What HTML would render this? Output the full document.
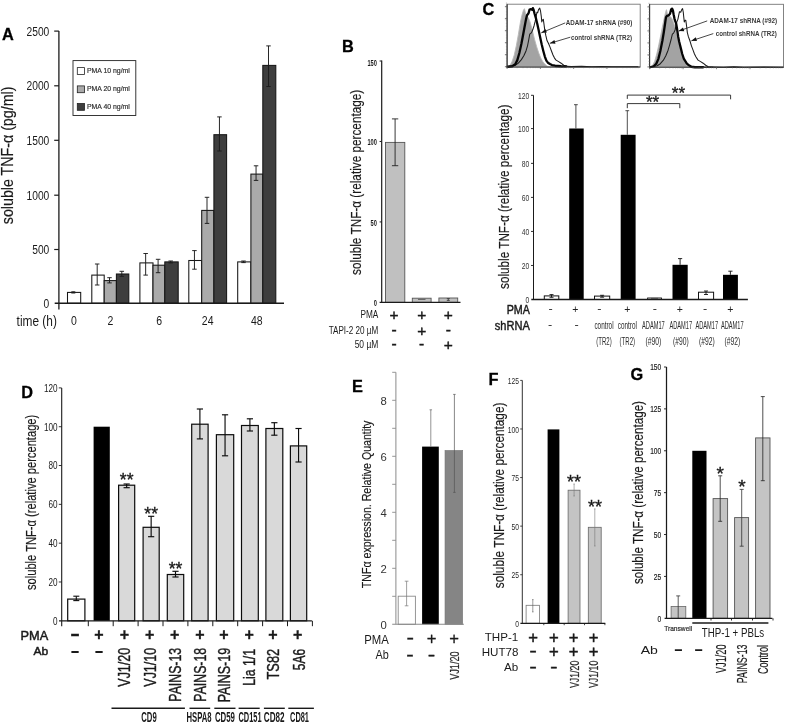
<!DOCTYPE html>
<html><head><meta charset="utf-8"><title>Figure</title>
<style>
html,body{margin:0;padding:0;background:#fff}
body{width:785px;height:723px;overflow:hidden}
svg{display:block;filter:blur(0.35px);font-family:"Liberation Sans",Arial,Helvetica,sans-serif}
</style></head><body>
<svg width="785" height="723" viewBox="0 0 785 723">
<rect width="785" height="723" fill="#fff"/>
<g id="panelA">
<text transform="translate(1.9 34) scale(0.95 1)" y="5.95" font-size="17.2" text-anchor="start" font-weight="bold" fill="#000" stroke="#000" stroke-width="0.3">A</text>
<rect x="67.5" y="292.41" width="13.2" height="10.89" fill="#fff" stroke="#161616" stroke-width="1.05"/>
<line x1="73.3" y1="291.81" x2="73.3" y2="293.01" stroke="#1c1c1c" stroke-width="0.95"/>
<line x1="71.3" y1="291.81" x2="75.3" y2="291.81" stroke="#1c1c1c" stroke-width="0.95"/>
<line x1="71.3" y1="293.01" x2="75.3" y2="293.01" stroke="#1c1c1c" stroke-width="0.95"/>
<rect x="91.8" y="275.1" width="12.4" height="28.2" fill="#fff" stroke="#161616" stroke-width="1.05"/>
<line x1="97.2" y1="264" x2="97.2" y2="285" stroke="#1c1c1c" stroke-width="0.95"/>
<line x1="94.95" y1="264" x2="99.45" y2="264" stroke="#1c1c1c" stroke-width="0.95"/>
<line x1="94.95" y1="285" x2="99.45" y2="285" stroke="#1c1c1c" stroke-width="0.95"/>
<rect x="104.2" y="280.6" width="12.2" height="22.7" fill="#aaaaaa" stroke="#161616" stroke-width="1.05"/>
<line x1="109.5" y1="277.7" x2="109.5" y2="282.9" stroke="#1c1c1c" stroke-width="0.95"/>
<line x1="107.25" y1="277.7" x2="111.75" y2="277.7" stroke="#1c1c1c" stroke-width="0.95"/>
<line x1="107.25" y1="282.9" x2="111.75" y2="282.9" stroke="#1c1c1c" stroke-width="0.95"/>
<rect x="116.4" y="274" width="12.4" height="29.3" fill="#3e3e3e" stroke="#161616" stroke-width="1.05"/>
<line x1="121.8" y1="271.3" x2="121.8" y2="276.3" stroke="#1c1c1c" stroke-width="0.95"/>
<line x1="119.55" y1="271.3" x2="124.05" y2="271.3" stroke="#1c1c1c" stroke-width="0.95"/>
<line x1="119.55" y1="276.3" x2="124.05" y2="276.3" stroke="#1c1c1c" stroke-width="0.95"/>
<rect x="139.9" y="262.9" width="13.1" height="40.4" fill="#fff" stroke="#161616" stroke-width="1.05"/>
<line x1="145.65" y1="253.5" x2="145.65" y2="275.1" stroke="#1c1c1c" stroke-width="0.95"/>
<line x1="143.4" y1="253.5" x2="147.9" y2="253.5" stroke="#1c1c1c" stroke-width="0.95"/>
<line x1="143.4" y1="275.1" x2="147.9" y2="275.1" stroke="#1c1c1c" stroke-width="0.95"/>
<rect x="153" y="265.2" width="11.8" height="38.1" fill="#aaaaaa" stroke="#161616" stroke-width="1.05"/>
<line x1="158.1" y1="259.3" x2="158.1" y2="272.7" stroke="#1c1c1c" stroke-width="0.95"/>
<line x1="155.85" y1="259.3" x2="160.35" y2="259.3" stroke="#1c1c1c" stroke-width="0.95"/>
<line x1="155.85" y1="272.7" x2="160.35" y2="272.7" stroke="#1c1c1c" stroke-width="0.95"/>
<rect x="164.8" y="261.9" width="13.4" height="41.4" fill="#3e3e3e" stroke="#161616" stroke-width="1.05"/>
<line x1="170.7" y1="261" x2="170.7" y2="262.9" stroke="#1c1c1c" stroke-width="0.95"/>
<line x1="168.45" y1="261" x2="172.95" y2="261" stroke="#1c1c1c" stroke-width="0.95"/>
<line x1="168.45" y1="262.9" x2="172.95" y2="262.9" stroke="#1c1c1c" stroke-width="0.95"/>
<rect x="188.8" y="260.5" width="12.9" height="42.8" fill="#fff" stroke="#161616" stroke-width="1.05"/>
<line x1="194.45" y1="250.6" x2="194.45" y2="269.2" stroke="#1c1c1c" stroke-width="0.95"/>
<line x1="192.2" y1="250.6" x2="196.7" y2="250.6" stroke="#1c1c1c" stroke-width="0.95"/>
<line x1="192.2" y1="269.2" x2="196.7" y2="269.2" stroke="#1c1c1c" stroke-width="0.95"/>
<rect x="201.7" y="210.4" width="12.2" height="92.9" fill="#aaaaaa" stroke="#161616" stroke-width="1.05"/>
<line x1="207" y1="197.3" x2="207" y2="223.4" stroke="#1c1c1c" stroke-width="0.95"/>
<line x1="204.75" y1="197.3" x2="209.25" y2="197.3" stroke="#1c1c1c" stroke-width="0.95"/>
<line x1="204.75" y1="223.4" x2="209.25" y2="223.4" stroke="#1c1c1c" stroke-width="0.95"/>
<rect x="213.9" y="134.7" width="12.7" height="168.6" fill="#3e3e3e" stroke="#161616" stroke-width="1.05"/>
<line x1="219.45" y1="116.9" x2="219.45" y2="151" stroke="#1c1c1c" stroke-width="0.95"/>
<line x1="217.2" y1="116.9" x2="221.7" y2="116.9" stroke="#1c1c1c" stroke-width="0.95"/>
<line x1="217.2" y1="151" x2="221.7" y2="151" stroke="#1c1c1c" stroke-width="0.95"/>
<rect x="237.7" y="261.9" width="13.2" height="41.4" fill="#fff" stroke="#161616" stroke-width="1.05"/>
<line x1="243.5" y1="261" x2="243.5" y2="262.6" stroke="#1c1c1c" stroke-width="0.95"/>
<line x1="241.25" y1="261" x2="245.75" y2="261" stroke="#1c1c1c" stroke-width="0.95"/>
<line x1="241.25" y1="262.6" x2="245.75" y2="262.6" stroke="#1c1c1c" stroke-width="0.95"/>
<rect x="250.9" y="174.1" width="11.9" height="129.2" fill="#aaaaaa" stroke="#161616" stroke-width="1.05"/>
<line x1="256.05" y1="165.8" x2="256.05" y2="180.4" stroke="#1c1c1c" stroke-width="0.95"/>
<line x1="253.8" y1="165.8" x2="258.3" y2="165.8" stroke="#1c1c1c" stroke-width="0.95"/>
<line x1="253.8" y1="180.4" x2="258.3" y2="180.4" stroke="#1c1c1c" stroke-width="0.95"/>
<rect x="262.8" y="65.4" width="13" height="237.9" fill="#3e3e3e" stroke="#161616" stroke-width="1.05"/>
<line x1="268.5" y1="45.9" x2="268.5" y2="86.5" stroke="#1c1c1c" stroke-width="0.95"/>
<line x1="266.25" y1="45.9" x2="270.75" y2="45.9" stroke="#1c1c1c" stroke-width="0.95"/>
<line x1="266.25" y1="86.5" x2="270.75" y2="86.5" stroke="#1c1c1c" stroke-width="0.95"/>
<line x1="58.9" y1="31.1" x2="58.9" y2="309.6" stroke="#1a1a1a" stroke-width="1.3"/>
<line x1="54.7" y1="303.3" x2="284" y2="303.3" stroke="#1a1a1a" stroke-width="1.4"/>
<text transform="translate(49.3 303.5) scale(0.82 1)" y="4.32" font-size="12.5" text-anchor="end" fill="#1a1a1a">0</text>
<line x1="54.2" y1="249.5" x2="58.9" y2="249.5" stroke="#1a1a1a" stroke-width="1.2"/>
<text transform="translate(49.3 249.7) scale(0.82 1)" y="4.32" font-size="12.5" text-anchor="end" fill="#1a1a1a">500</text>
<line x1="54.2" y1="195.2" x2="58.9" y2="195.2" stroke="#1a1a1a" stroke-width="1.2"/>
<text transform="translate(49.3 195.4) scale(0.82 1)" y="4.32" font-size="12.5" text-anchor="end" fill="#1a1a1a">1000</text>
<line x1="54.2" y1="140.3" x2="58.9" y2="140.3" stroke="#1a1a1a" stroke-width="1.2"/>
<text transform="translate(49.3 140.5) scale(0.82 1)" y="4.32" font-size="12.5" text-anchor="end" fill="#1a1a1a">1500</text>
<line x1="54.2" y1="85.8" x2="58.9" y2="85.8" stroke="#1a1a1a" stroke-width="1.2"/>
<text transform="translate(49.3 86) scale(0.82 1)" y="4.32" font-size="12.5" text-anchor="end" fill="#1a1a1a">2000</text>
<line x1="54.2" y1="31.1" x2="58.9" y2="31.1" stroke="#1a1a1a" stroke-width="1.2"/>
<text transform="translate(49.3 31.3) scale(0.82 1)" y="4.32" font-size="12.5" text-anchor="end" fill="#1a1a1a">2500</text>
<text transform="translate(7.8 155.4) rotate(-90) scale(0.89 1)" y="5.54" font-size="16" text-anchor="middle" fill="#1a1a1a" stroke="#1a1a1a" stroke-width="0.18">soluble TNF-α (pg/ml)</text>
<text transform="translate(16.6 320.6) scale(0.82 1)" y="5.02" font-size="14.5" text-anchor="start" fill="#1a1a1a">time (h)</text>
<text transform="translate(73.8 320.8) scale(0.82 1)" y="4.43" font-size="12.8" text-anchor="middle" fill="#1a1a1a">0</text>
<text transform="translate(110.3 320.8) scale(0.82 1)" y="4.43" font-size="12.8" text-anchor="middle" fill="#1a1a1a">2</text>
<text transform="translate(159.2 320.8) scale(0.82 1)" y="4.43" font-size="12.8" text-anchor="middle" fill="#1a1a1a">6</text>
<text transform="translate(207.7 320.8) scale(0.82 1)" y="4.43" font-size="12.8" text-anchor="middle" fill="#1a1a1a">24</text>
<text transform="translate(256.8 320.8) scale(0.82 1)" y="4.43" font-size="12.8" text-anchor="middle" fill="#1a1a1a">48</text>
<rect x="73" y="60.6" width="62.8" height="54.9" fill="#fff" stroke="#222" stroke-width="0.9"/>
<rect x="77.3" y="67.6" width="7.2" height="6.8" fill="#fff" stroke="#222" stroke-width="0.8"/>
<text transform="translate(86.9 70.5) scale(0.96 1)" y="2.49" font-size="7.2" text-anchor="start" fill="#333" stroke="#333" stroke-width="0.2">PMA 10 ng/ml</text>
<rect x="77.3" y="85.9" width="7.2" height="6.8" fill="#aaaaaa" stroke="#222" stroke-width="0.8"/>
<text transform="translate(86.9 88.8) scale(0.96 1)" y="2.49" font-size="7.2" text-anchor="start" fill="#333" stroke="#333" stroke-width="0.2">PMA 20 ng/ml</text>
<rect x="77.3" y="103.5" width="7.2" height="6.8" fill="#3e3e3e" stroke="#222" stroke-width="0.8"/>
<text transform="translate(86.9 106.4) scale(0.96 1)" y="2.49" font-size="7.2" text-anchor="start" fill="#333" stroke="#333" stroke-width="0.2">PMA 40 ng/ml</text>
</g>
<g id="panelB">
<text transform="translate(342 45.6) scale(0.95 1)" y="5.95" font-size="17.2" text-anchor="start" font-weight="bold" fill="#000" stroke="#000" stroke-width="0.3">B</text>
<rect x="385.5" y="142.4" width="19.3" height="160" fill="#c0c0c0" stroke="#555" stroke-width="0.9"/>
<line x1="395.1" y1="118.9" x2="395.1" y2="165.7" stroke="#222" stroke-width="0.9"/>
<line x1="391.95" y1="118.9" x2="398.25" y2="118.9" stroke="#222" stroke-width="0.9"/>
<line x1="391.95" y1="165.7" x2="398.25" y2="165.7" stroke="#222" stroke-width="0.9"/>
<rect x="412.3" y="298.2" width="18.8" height="4.2" fill="#c0c0c0" stroke="#555" stroke-width="0.9"/>
<line x1="418" y1="299.4" x2="425.5" y2="299.4" stroke="#333" stroke-width="0.7"/>
<rect x="438.9" y="298" width="18.8" height="4.4" fill="#c0c0c0" stroke="#555" stroke-width="0.9"/>
<line x1="448.3" y1="298.6" x2="448.3" y2="300.4" stroke="#333" stroke-width="0.8"/>
<line x1="446.8" y1="298.6" x2="449.8" y2="298.6" stroke="#333" stroke-width="0.8"/>
<line x1="446.8" y1="300.4" x2="449.8" y2="300.4" stroke="#333" stroke-width="0.8"/>
<line x1="381.7" y1="60.6" x2="381.7" y2="302.4" stroke="#1a1a1a" stroke-width="1.2"/>
<line x1="379.6" y1="302.4" x2="460.5" y2="302.4" stroke="#1a1a1a" stroke-width="1.4"/>
<text transform="translate(376.9 302.7) scale(0.58 1)" y="3.39" font-size="9.8" text-anchor="end" font-weight="bold" fill="#1a1a1a">0</text>
<line x1="379.6" y1="221.93" x2="381.7" y2="221.93" stroke="#1a1a1a" stroke-width="1"/>
<text transform="translate(376.9 222.23) scale(0.58 1)" y="3.39" font-size="9.8" text-anchor="end" font-weight="bold" fill="#1a1a1a">50</text>
<line x1="379.6" y1="141.47" x2="381.7" y2="141.47" stroke="#1a1a1a" stroke-width="1"/>
<text transform="translate(376.9 141.77) scale(0.58 1)" y="3.39" font-size="9.8" text-anchor="end" font-weight="bold" fill="#1a1a1a">100</text>
<line x1="379.6" y1="61" x2="381.7" y2="61" stroke="#1a1a1a" stroke-width="1"/>
<text transform="translate(376.9 62.4) scale(0.58 1)" y="3.39" font-size="9.8" text-anchor="end" font-weight="bold" fill="#1a1a1a">150</text>
<text transform="translate(356 182.3) rotate(-90) scale(0.83 1)" y="4.91" font-size="14.2" text-anchor="middle" fill="#1a1a1a" stroke="#1a1a1a" stroke-width="0.18">soluble TNF-α (relative percentage)</text>
<text transform="translate(378.3 314.6) scale(0.75 1)" y="3.81" font-size="11" text-anchor="end" fill="#1a1a1a">PMA</text>
<text transform="translate(378.3 330.2) scale(0.74 1)" y="3.81" font-size="11" text-anchor="end" fill="#1a1a1a">TAPI-2 20 µM</text>
<text transform="translate(378.3 344.3) scale(0.77 1)" y="3.81" font-size="11" text-anchor="end" fill="#1a1a1a">50 µM</text>
<text transform="translate(394 314.21)" y="5.36" font-size="15.5" text-anchor="middle" fill="#1a1a1a" stroke="#1a1a1a" stroke-width="0.45">+</text>
<text transform="translate(394 329.58)" y="5.36" font-size="15.5" text-anchor="middle" fill="#1a1a1a" stroke="#1a1a1a" stroke-width="0.45">-</text>
<text transform="translate(394 343.98)" y="5.36" font-size="15.5" text-anchor="middle" fill="#1a1a1a" stroke="#1a1a1a" stroke-width="0.45">-</text>
<text transform="translate(421.7 314.21)" y="5.36" font-size="15.5" text-anchor="middle" fill="#1a1a1a" stroke="#1a1a1a" stroke-width="0.45">+</text>
<text transform="translate(421.7 330.61)" y="5.36" font-size="15.5" text-anchor="middle" fill="#1a1a1a" stroke="#1a1a1a" stroke-width="0.45">+</text>
<text transform="translate(421.7 343.98)" y="5.36" font-size="15.5" text-anchor="middle" fill="#1a1a1a" stroke="#1a1a1a" stroke-width="0.45">-</text>
<text transform="translate(448.3 314.21)" y="5.36" font-size="15.5" text-anchor="middle" fill="#1a1a1a" stroke="#1a1a1a" stroke-width="0.45">+</text>
<text transform="translate(448.3 329.58)" y="5.36" font-size="15.5" text-anchor="middle" fill="#1a1a1a" stroke="#1a1a1a" stroke-width="0.45">-</text>
<text transform="translate(448.3 345.01)" y="5.36" font-size="15.5" text-anchor="middle" fill="#1a1a1a" stroke="#1a1a1a" stroke-width="0.45">+</text>
</g>
<g id="panelC">
<text transform="translate(482.6 8.6) scale(0.95 1)" y="5.95" font-size="17.2" text-anchor="start" font-weight="bold" fill="#000" stroke="#000" stroke-width="0.3">C</text>
<rect x="507.1" y="4.2" width="133.1" height="62.8" fill="#fff" stroke="#777" stroke-width="0.9"/>
<path d="M507.64 66.75 L510.19 65.22 L512.23 61.15 L514.27 55.03 L516.31 45.86 L518.34 34.65 L520.38 22.42 L521.91 15.29 L523.44 10.19 L524.46 8.66 L525.48 13.25 L526.7 16.31 L528.03 17.32 L529.55 20.38 L531.08 25.48 L532.61 31.59 L534.65 39.75 L536.69 46.88 L538.73 52.99 L540.76 58.09 L542.8 61.66 L544.84 64.2 L547.39 66.24 L548.92 66.75 Z" fill="#a3a3a3" stroke="#b8b8b8" stroke-width="0.9"/>
<path d="M507.64 66.75 L515.29 65.22 L518.34 63.18 L521.4 59.62 L523.95 55.54 L525.99 50.96 L527.52 45.86 L528.74 39.75 L529.76 34.14 L531.59 32.61 L532.82 29.55 L534.14 25.48 L535.16 21.4 L536.18 16.31 L536.89 12.23 L537.71 12.74 L538.52 9.68 L539.75 8.15 L540.56 11.21 L541.27 16.31 L541.78 21.91 L542.6 19.87 L543.31 19.36 L544.03 24.46 L544.84 30.57 L545.86 35.67 L547.08 40.76 L548.41 43.31 L549.94 46.88 L551.46 50.96 L552.99 55.03 L554.52 58.09 L556.05 60.13 L558.6 61.66 L561.15 63.18 L563.69 65.22 L566.24 66.24 L571.34 66.75" fill="none" stroke="#1c1c1c" stroke-width="1.05" stroke-linejoin="round"/>
<path d="M507.64 66.75 L512.23 66.24 L515.29 64.2 L517.32 60.13 L519.36 52.99 L521.4 43.82 L522.93 35.67 L524.46 27.52 L525.99 19.36 L527.01 15.29 L528.54 13.25 L529.55 9.68 L531.08 9.17 L532.1 9.68 L532.82 8.15 L533.63 9.68 L534.45 13.25 L535.67 17.32 L537.2 23.44 L538.73 30.57 L540.25 37.71 L541.78 44.84 L543.31 50.96 L544.84 56.56 L546.37 60.64 L547.9 62.68 L549.94 64 L551.97 65.02 L555.03 65.73 L561.15 66.24 L566.24 66.45" fill="none" stroke="#050505" stroke-width="2.3" stroke-linejoin="round" stroke-linecap="round"/>
<path d="M566.24 66.45 L571.34 66.65 L581.53 66.45 L591.72 66.75 L601.91 66.55 L612.1 66.75 L638.29 66.75" fill="none" stroke="#111" stroke-width="1.2" stroke-linejoin="round"/>
<line x1="507.1" y1="4.2" x2="507.1" y2="67.6" stroke="#333" stroke-width="1.1"/>
<line x1="506.6" y1="67" x2="640.2" y2="67" stroke="#333" stroke-width="1"/>
<line x1="504.9" y1="66.7" x2="507.1" y2="66.7" stroke="#555" stroke-width="0.8"/>
<line x1="504.9" y1="54.7" x2="507.1" y2="54.7" stroke="#555" stroke-width="0.8"/>
<line x1="504.9" y1="42.7" x2="507.1" y2="42.7" stroke="#555" stroke-width="0.8"/>
<line x1="504.9" y1="30.7" x2="507.1" y2="30.7" stroke="#555" stroke-width="0.8"/>
<line x1="504.9" y1="18.7" x2="507.1" y2="18.7" stroke="#555" stroke-width="0.8"/>
<line x1="504.9" y1="6.7" x2="507.1" y2="6.7" stroke="#555" stroke-width="0.8"/>
<line x1="505.9" y1="64" x2="507.1" y2="64" stroke="#777" stroke-width="0.5"/>
<line x1="505.9" y1="61.1" x2="507.1" y2="61.1" stroke="#777" stroke-width="0.5"/>
<line x1="505.9" y1="58.2" x2="507.1" y2="58.2" stroke="#777" stroke-width="0.5"/>
<line x1="505.9" y1="55.3" x2="507.1" y2="55.3" stroke="#777" stroke-width="0.5"/>
<line x1="505.9" y1="52.4" x2="507.1" y2="52.4" stroke="#777" stroke-width="0.5"/>
<line x1="505.9" y1="49.5" x2="507.1" y2="49.5" stroke="#777" stroke-width="0.5"/>
<line x1="505.9" y1="46.6" x2="507.1" y2="46.6" stroke="#777" stroke-width="0.5"/>
<line x1="505.9" y1="43.7" x2="507.1" y2="43.7" stroke="#777" stroke-width="0.5"/>
<line x1="505.9" y1="40.8" x2="507.1" y2="40.8" stroke="#777" stroke-width="0.5"/>
<line x1="505.9" y1="37.9" x2="507.1" y2="37.9" stroke="#777" stroke-width="0.5"/>
<line x1="505.9" y1="35" x2="507.1" y2="35" stroke="#777" stroke-width="0.5"/>
<line x1="505.9" y1="32.1" x2="507.1" y2="32.1" stroke="#777" stroke-width="0.5"/>
<line x1="505.9" y1="29.2" x2="507.1" y2="29.2" stroke="#777" stroke-width="0.5"/>
<line x1="505.9" y1="26.3" x2="507.1" y2="26.3" stroke="#777" stroke-width="0.5"/>
<line x1="505.9" y1="23.4" x2="507.1" y2="23.4" stroke="#777" stroke-width="0.5"/>
<line x1="505.9" y1="20.5" x2="507.1" y2="20.5" stroke="#777" stroke-width="0.5"/>
<line x1="505.9" y1="17.6" x2="507.1" y2="17.6" stroke="#777" stroke-width="0.5"/>
<line x1="505.9" y1="14.7" x2="507.1" y2="14.7" stroke="#777" stroke-width="0.5"/>
<line x1="505.9" y1="11.8" x2="507.1" y2="11.8" stroke="#777" stroke-width="0.5"/>
<line x1="505.9" y1="8.9" x2="507.1" y2="8.9" stroke="#777" stroke-width="0.5"/>
<line x1="505.9" y1="6" x2="507.1" y2="6" stroke="#777" stroke-width="0.5"/>
<line x1="505.9" y1="3.1" x2="507.1" y2="3.1" stroke="#777" stroke-width="0.5"/>
<line x1="507.1" y1="67" x2="507.1" y2="69" stroke="#666" stroke-width="0.8"/>
<line x1="517.12" y1="67" x2="517.12" y2="68.2" stroke="#666" stroke-width="0.5"/>
<line x1="522.98" y1="67" x2="522.98" y2="68.2" stroke="#666" stroke-width="0.5"/>
<line x1="527.13" y1="67" x2="527.13" y2="68.2" stroke="#666" stroke-width="0.5"/>
<line x1="530.36" y1="67" x2="530.36" y2="68.2" stroke="#666" stroke-width="0.5"/>
<line x1="532.99" y1="67" x2="532.99" y2="68.2" stroke="#666" stroke-width="0.5"/>
<line x1="535.22" y1="67" x2="535.22" y2="68.2" stroke="#666" stroke-width="0.5"/>
<line x1="537.15" y1="67" x2="537.15" y2="68.2" stroke="#666" stroke-width="0.5"/>
<line x1="538.85" y1="67" x2="538.85" y2="68.2" stroke="#666" stroke-width="0.5"/>
<line x1="540.38" y1="67" x2="540.38" y2="69" stroke="#666" stroke-width="0.8"/>
<line x1="550.39" y1="67" x2="550.39" y2="68.2" stroke="#666" stroke-width="0.5"/>
<line x1="556.25" y1="67" x2="556.25" y2="68.2" stroke="#666" stroke-width="0.5"/>
<line x1="560.41" y1="67" x2="560.41" y2="68.2" stroke="#666" stroke-width="0.5"/>
<line x1="563.63" y1="67" x2="563.63" y2="68.2" stroke="#666" stroke-width="0.5"/>
<line x1="566.27" y1="67" x2="566.27" y2="68.2" stroke="#666" stroke-width="0.5"/>
<line x1="568.5" y1="67" x2="568.5" y2="68.2" stroke="#666" stroke-width="0.5"/>
<line x1="570.43" y1="67" x2="570.43" y2="68.2" stroke="#666" stroke-width="0.5"/>
<line x1="572.13" y1="67" x2="572.13" y2="68.2" stroke="#666" stroke-width="0.5"/>
<line x1="573.65" y1="67" x2="573.65" y2="69" stroke="#666" stroke-width="0.8"/>
<line x1="583.67" y1="67" x2="583.67" y2="68.2" stroke="#666" stroke-width="0.5"/>
<line x1="589.53" y1="67" x2="589.53" y2="68.2" stroke="#666" stroke-width="0.5"/>
<line x1="593.68" y1="67" x2="593.68" y2="68.2" stroke="#666" stroke-width="0.5"/>
<line x1="596.91" y1="67" x2="596.91" y2="68.2" stroke="#666" stroke-width="0.5"/>
<line x1="599.54" y1="67" x2="599.54" y2="68.2" stroke="#666" stroke-width="0.5"/>
<line x1="601.77" y1="67" x2="601.77" y2="68.2" stroke="#666" stroke-width="0.5"/>
<line x1="603.7" y1="67" x2="603.7" y2="68.2" stroke="#666" stroke-width="0.5"/>
<line x1="605.4" y1="67" x2="605.4" y2="68.2" stroke="#666" stroke-width="0.5"/>
<line x1="606.93" y1="67" x2="606.93" y2="69" stroke="#666" stroke-width="0.8"/>
<line x1="616.94" y1="67" x2="616.94" y2="68.2" stroke="#666" stroke-width="0.5"/>
<line x1="622.8" y1="67" x2="622.8" y2="68.2" stroke="#666" stroke-width="0.5"/>
<line x1="626.96" y1="67" x2="626.96" y2="68.2" stroke="#666" stroke-width="0.5"/>
<line x1="630.18" y1="67" x2="630.18" y2="68.2" stroke="#666" stroke-width="0.5"/>
<line x1="632.82" y1="67" x2="632.82" y2="68.2" stroke="#666" stroke-width="0.5"/>
<line x1="635.05" y1="67" x2="635.05" y2="68.2" stroke="#666" stroke-width="0.5"/>
<line x1="636.98" y1="67" x2="636.98" y2="68.2" stroke="#666" stroke-width="0.5"/>
<line x1="638.68" y1="67" x2="638.68" y2="68.2" stroke="#666" stroke-width="0.5"/>
<text x="565.8" y="25.3" font-size="6.6" font-weight="bold" fill="#3a3a3a" textLength="66.5" lengthAdjust="spacingAndGlyphs">ADAM-17 shRNA (#90)</text>
<text x="571" y="39.6" font-size="6.6" font-weight="bold" fill="#3a3a3a" textLength="61" lengthAdjust="spacingAndGlyphs">control shRNA (TR2)</text>
<line x1="565.2" y1="22.9" x2="541.3" y2="32.8" stroke="#1a1a1a" stroke-width="0.8"/>
<polygon points="541.3,32.8 546.9,32.62 545.39,28.97" fill="#111"/>
<line x1="570.3" y1="37.2" x2="549.9" y2="43.3" stroke="#1a1a1a" stroke-width="0.8"/>
<polygon points="549.9,43.3 555.49,43.69 554.36,39.91" fill="#111"/>
<rect x="649.6" y="4.3" width="133.9" height="62.9" fill="#fff" stroke="#777" stroke-width="0.9"/>
<path d="M650.15 67.26 L652.7 65.22 L654.74 61.15 L656.78 54.01 L658.82 44.84 L660.85 34.65 L662.89 24.46 L664.42 17.32 L665.64 12.23 L666.46 9.68 L667.48 14.27 L669.01 16.31 L670.54 16.82 L672.06 18.85 L673.59 22.42 L675.12 27.52 L676.65 33.63 L678.18 39.75 L679.71 45.86 L681.24 51.97 L682.76 57.07 L684.29 61.15 L685.82 64.2 L687.86 66.24 L689.9 67.26 Z" fill="#a3a3a3" stroke="#b8b8b8" stroke-width="0.9"/>
<path d="M650.15 67.26 L657.29 65.73 L660.34 63.69 L663.4 60.13 L665.95 55.54 L667.99 50.45 L669.52 45.35 L671.04 39.75 L672.37 34.14 L673.59 33.12 L675.12 30.06 L676.14 24.46 L676.85 21.91 L677.87 19.36 L678.69 15.29 L679.5 11.72 L680.73 12.23 L681.75 9.68 L682.56 8.66 L683.27 12.23 L683.78 17.32 L684.29 21.91 L685.01 20.38 L685.82 20.38 L686.64 26.5 L687.35 32.61 L688.37 36.69 L689.9 40.76 L691.43 45.86 L692.96 49.94 L694.48 54.01 L696.01 57.07 L698.05 60.13 L700.6 61.66 L703.15 63.18 L705.69 65.22 L708.24 66.75 L713.34 67.26" fill="none" stroke="#1c1c1c" stroke-width="1.05" stroke-linejoin="round"/>
<path d="M650.15 67.26 L653.72 66.24 L656.27 63.69 L658.31 59.11 L660.34 50.96 L662.38 40.76 L663.91 31.59 L665.24 22.42 L665.95 17.32 L666.97 15.8 L668.7 15.29 L670.03 13.76 L671.04 9.68 L672.06 8.66 L672.88 10.19 L673.59 14.27 L674.41 18.34 L675.12 20.89 L676.14 23.44 L677.16 29.55 L678.18 36.69 L679.2 41.78 L680.73 47.9 L682.25 54.01 L683.78 58.6 L685.31 61.15 L686.84 63.69 L688.88 65.22 L691.43 66.75 L694.99 67.26 L703.15 67.26" fill="none" stroke="#050505" stroke-width="2.3" stroke-linejoin="round" stroke-linecap="round"/>
<path d="M703.15 67.26 L713.34 67.06 L723.53 67.26 L733.72 66.96 L743.91 67.26 L764.29 67.06 L783.45 67.26" fill="none" stroke="#111" stroke-width="1.2" stroke-linejoin="round"/>
<line x1="649.6" y1="4.3" x2="649.6" y2="67.8" stroke="#333" stroke-width="1.1"/>
<line x1="649.1" y1="67.2" x2="783.5" y2="67.2" stroke="#333" stroke-width="1"/>
<line x1="647.4" y1="66.9" x2="649.6" y2="66.9" stroke="#555" stroke-width="0.8"/>
<line x1="647.4" y1="54.9" x2="649.6" y2="54.9" stroke="#555" stroke-width="0.8"/>
<line x1="647.4" y1="42.9" x2="649.6" y2="42.9" stroke="#555" stroke-width="0.8"/>
<line x1="647.4" y1="30.9" x2="649.6" y2="30.9" stroke="#555" stroke-width="0.8"/>
<line x1="647.4" y1="18.9" x2="649.6" y2="18.9" stroke="#555" stroke-width="0.8"/>
<line x1="647.4" y1="6.9" x2="649.6" y2="6.9" stroke="#555" stroke-width="0.8"/>
<line x1="648.4" y1="64.2" x2="649.6" y2="64.2" stroke="#777" stroke-width="0.5"/>
<line x1="648.4" y1="61.3" x2="649.6" y2="61.3" stroke="#777" stroke-width="0.5"/>
<line x1="648.4" y1="58.4" x2="649.6" y2="58.4" stroke="#777" stroke-width="0.5"/>
<line x1="648.4" y1="55.5" x2="649.6" y2="55.5" stroke="#777" stroke-width="0.5"/>
<line x1="648.4" y1="52.6" x2="649.6" y2="52.6" stroke="#777" stroke-width="0.5"/>
<line x1="648.4" y1="49.7" x2="649.6" y2="49.7" stroke="#777" stroke-width="0.5"/>
<line x1="648.4" y1="46.8" x2="649.6" y2="46.8" stroke="#777" stroke-width="0.5"/>
<line x1="648.4" y1="43.9" x2="649.6" y2="43.9" stroke="#777" stroke-width="0.5"/>
<line x1="648.4" y1="41" x2="649.6" y2="41" stroke="#777" stroke-width="0.5"/>
<line x1="648.4" y1="38.1" x2="649.6" y2="38.1" stroke="#777" stroke-width="0.5"/>
<line x1="648.4" y1="35.2" x2="649.6" y2="35.2" stroke="#777" stroke-width="0.5"/>
<line x1="648.4" y1="32.3" x2="649.6" y2="32.3" stroke="#777" stroke-width="0.5"/>
<line x1="648.4" y1="29.4" x2="649.6" y2="29.4" stroke="#777" stroke-width="0.5"/>
<line x1="648.4" y1="26.5" x2="649.6" y2="26.5" stroke="#777" stroke-width="0.5"/>
<line x1="648.4" y1="23.6" x2="649.6" y2="23.6" stroke="#777" stroke-width="0.5"/>
<line x1="648.4" y1="20.7" x2="649.6" y2="20.7" stroke="#777" stroke-width="0.5"/>
<line x1="648.4" y1="17.8" x2="649.6" y2="17.8" stroke="#777" stroke-width="0.5"/>
<line x1="648.4" y1="14.9" x2="649.6" y2="14.9" stroke="#777" stroke-width="0.5"/>
<line x1="648.4" y1="12" x2="649.6" y2="12" stroke="#777" stroke-width="0.5"/>
<line x1="648.4" y1="9.1" x2="649.6" y2="9.1" stroke="#777" stroke-width="0.5"/>
<line x1="648.4" y1="6.2" x2="649.6" y2="6.2" stroke="#777" stroke-width="0.5"/>
<line x1="648.4" y1="3.3" x2="649.6" y2="3.3" stroke="#777" stroke-width="0.5"/>
<line x1="649.6" y1="67.2" x2="649.6" y2="69.2" stroke="#666" stroke-width="0.8"/>
<line x1="659.68" y1="67.2" x2="659.68" y2="68.4" stroke="#666" stroke-width="0.5"/>
<line x1="665.57" y1="67.2" x2="665.57" y2="68.4" stroke="#666" stroke-width="0.5"/>
<line x1="669.75" y1="67.2" x2="669.75" y2="68.4" stroke="#666" stroke-width="0.5"/>
<line x1="673" y1="67.2" x2="673" y2="68.4" stroke="#666" stroke-width="0.5"/>
<line x1="675.65" y1="67.2" x2="675.65" y2="68.4" stroke="#666" stroke-width="0.5"/>
<line x1="677.89" y1="67.2" x2="677.89" y2="68.4" stroke="#666" stroke-width="0.5"/>
<line x1="679.83" y1="67.2" x2="679.83" y2="68.4" stroke="#666" stroke-width="0.5"/>
<line x1="681.54" y1="67.2" x2="681.54" y2="68.4" stroke="#666" stroke-width="0.5"/>
<line x1="683.08" y1="67.2" x2="683.08" y2="69.2" stroke="#666" stroke-width="0.8"/>
<line x1="693.15" y1="67.2" x2="693.15" y2="68.4" stroke="#666" stroke-width="0.5"/>
<line x1="699.05" y1="67.2" x2="699.05" y2="68.4" stroke="#666" stroke-width="0.5"/>
<line x1="703.23" y1="67.2" x2="703.23" y2="68.4" stroke="#666" stroke-width="0.5"/>
<line x1="706.47" y1="67.2" x2="706.47" y2="68.4" stroke="#666" stroke-width="0.5"/>
<line x1="709.12" y1="67.2" x2="709.12" y2="68.4" stroke="#666" stroke-width="0.5"/>
<line x1="711.36" y1="67.2" x2="711.36" y2="68.4" stroke="#666" stroke-width="0.5"/>
<line x1="713.31" y1="67.2" x2="713.31" y2="68.4" stroke="#666" stroke-width="0.5"/>
<line x1="715.02" y1="67.2" x2="715.02" y2="68.4" stroke="#666" stroke-width="0.5"/>
<line x1="716.55" y1="67.2" x2="716.55" y2="69.2" stroke="#666" stroke-width="0.8"/>
<line x1="726.63" y1="67.2" x2="726.63" y2="68.4" stroke="#666" stroke-width="0.5"/>
<line x1="732.52" y1="67.2" x2="732.52" y2="68.4" stroke="#666" stroke-width="0.5"/>
<line x1="736.7" y1="67.2" x2="736.7" y2="68.4" stroke="#666" stroke-width="0.5"/>
<line x1="739.95" y1="67.2" x2="739.95" y2="68.4" stroke="#666" stroke-width="0.5"/>
<line x1="742.6" y1="67.2" x2="742.6" y2="68.4" stroke="#666" stroke-width="0.5"/>
<line x1="744.84" y1="67.2" x2="744.84" y2="68.4" stroke="#666" stroke-width="0.5"/>
<line x1="746.78" y1="67.2" x2="746.78" y2="68.4" stroke="#666" stroke-width="0.5"/>
<line x1="748.49" y1="67.2" x2="748.49" y2="68.4" stroke="#666" stroke-width="0.5"/>
<line x1="750.02" y1="67.2" x2="750.02" y2="69.2" stroke="#666" stroke-width="0.8"/>
<line x1="760.1" y1="67.2" x2="760.1" y2="68.4" stroke="#666" stroke-width="0.5"/>
<line x1="766" y1="67.2" x2="766" y2="68.4" stroke="#666" stroke-width="0.5"/>
<line x1="770.18" y1="67.2" x2="770.18" y2="68.4" stroke="#666" stroke-width="0.5"/>
<line x1="773.42" y1="67.2" x2="773.42" y2="68.4" stroke="#666" stroke-width="0.5"/>
<line x1="776.07" y1="67.2" x2="776.07" y2="68.4" stroke="#666" stroke-width="0.5"/>
<line x1="778.31" y1="67.2" x2="778.31" y2="68.4" stroke="#666" stroke-width="0.5"/>
<line x1="780.26" y1="67.2" x2="780.26" y2="68.4" stroke="#666" stroke-width="0.5"/>
<line x1="781.97" y1="67.2" x2="781.97" y2="68.4" stroke="#666" stroke-width="0.5"/>
<text x="709.7" y="23.3" font-size="6.6" font-weight="bold" fill="#3a3a3a" textLength="67.5" lengthAdjust="spacingAndGlyphs">ADAM-17 shRNA (#92)</text>
<text x="715.8" y="35.5" font-size="6.6" font-weight="bold" fill="#3a3a3a" textLength="61" lengthAdjust="spacingAndGlyphs">control shRNA (TR2)</text>
<line x1="707.2" y1="20.9" x2="678.7" y2="31.1" stroke="#1a1a1a" stroke-width="0.8"/>
<polygon points="678.7,31.1 684.3,31.19 682.97,27.48" fill="#111"/>
<line x1="713.3" y1="33.6" x2="691.4" y2="40.8" stroke="#1a1a1a" stroke-width="0.8"/>
<polygon points="691.4,40.8 696.99,41.04 695.76,37.29" fill="#111"/>
<rect x="544.3" y="295.9" width="14.5" height="3.6" fill="#fff" stroke="#111" stroke-width="1"/>
<line x1="551.5" y1="294.6" x2="551.5" y2="297.3" stroke="#111" stroke-width="0.9"/>
<line x1="549.5" y1="294.6" x2="553.5" y2="294.6" stroke="#111" stroke-width="0.9"/>
<line x1="549.5" y1="297.3" x2="553.5" y2="297.3" stroke="#111" stroke-width="0.9"/>
<rect x="569.2" y="128.5" width="14.5" height="171" fill="#000"/>
<line x1="575.9" y1="104.7" x2="575.9" y2="128.5" stroke="#222" stroke-width="0.8"/>
<line x1="574" y1="104.7" x2="577.8" y2="104.7" stroke="#222" stroke-width="0.8"/>
<rect x="594.5" y="296.1" width="15.2" height="3.4" fill="#fff" stroke="#111" stroke-width="1"/>
<line x1="602.1" y1="295.3" x2="602.1" y2="297.2" stroke="#111" stroke-width="0.9"/>
<line x1="600.1" y1="295.3" x2="604.1" y2="295.3" stroke="#111" stroke-width="0.9"/>
<line x1="600.1" y1="297.2" x2="604.1" y2="297.2" stroke="#111" stroke-width="0.9"/>
<rect x="620.7" y="134.8" width="14.9" height="164.7" fill="#000"/>
<line x1="627.3" y1="110.7" x2="627.3" y2="134.8" stroke="#222" stroke-width="0.8"/>
<line x1="625.4" y1="110.7" x2="629.2" y2="110.7" stroke="#222" stroke-width="0.8"/>
<rect x="647.6" y="298" width="13.9" height="1.5" fill="#fff" stroke="#111" stroke-width="0.9"/>
<line x1="651" y1="298.4" x2="658" y2="298.4" stroke="#333" stroke-width="0.6"/>
<rect x="672.5" y="264.8" width="15.2" height="34.7" fill="#000"/>
<line x1="680.1" y1="258.6" x2="680.1" y2="264.8" stroke="#111" stroke-width="0.9"/>
<line x1="678" y1="258.6" x2="682.2" y2="258.6" stroke="#111" stroke-width="0.9"/>
<rect x="698.5" y="292.2" width="15.1" height="7.3" fill="#fff" stroke="#111" stroke-width="1"/>
<line x1="706" y1="291" x2="706" y2="294.5" stroke="#111" stroke-width="0.9"/>
<line x1="704" y1="291" x2="708" y2="291" stroke="#111" stroke-width="0.9"/>
<line x1="704" y1="294.5" x2="708" y2="294.5" stroke="#111" stroke-width="0.9"/>
<rect x="723" y="274.8" width="14.9" height="24.7" fill="#000"/>
<line x1="730.4" y1="271.2" x2="730.4" y2="274.8" stroke="#111" stroke-width="0.9"/>
<line x1="728.3" y1="271.2" x2="732.5" y2="271.2" stroke="#111" stroke-width="0.9"/>
<line x1="533.5" y1="95.3" x2="533.5" y2="299.5" stroke="#1a1a1a" stroke-width="1"/>
<line x1="531.3" y1="299.5" x2="747.9" y2="299.5" stroke="#1a1a1a" stroke-width="1.3"/>
<text transform="translate(529.3 299.8) scale(0.78 1)" y="2.98" font-size="8.6" text-anchor="end" fill="#333">0</text>
<line x1="531" y1="265.47" x2="533.5" y2="265.47" stroke="#1a1a1a" stroke-width="0.9"/>
<text transform="translate(529.3 265.77) scale(0.78 1)" y="2.98" font-size="8.6" text-anchor="end" fill="#333">20</text>
<line x1="531" y1="231.43" x2="533.5" y2="231.43" stroke="#1a1a1a" stroke-width="0.9"/>
<text transform="translate(529.3 231.73) scale(0.78 1)" y="2.98" font-size="8.6" text-anchor="end" fill="#333">40</text>
<line x1="531" y1="197.4" x2="533.5" y2="197.4" stroke="#1a1a1a" stroke-width="0.9"/>
<text transform="translate(529.3 197.7) scale(0.78 1)" y="2.98" font-size="8.6" text-anchor="end" fill="#333">60</text>
<line x1="531" y1="163.37" x2="533.5" y2="163.37" stroke="#1a1a1a" stroke-width="0.9"/>
<text transform="translate(529.3 163.67) scale(0.78 1)" y="2.98" font-size="8.6" text-anchor="end" fill="#333">80</text>
<line x1="531" y1="128.6" x2="533.5" y2="128.6" stroke="#1a1a1a" stroke-width="0.9"/>
<text transform="translate(529.3 128.9) scale(0.78 1)" y="2.98" font-size="8.6" text-anchor="end" fill="#333">100</text>
<line x1="531" y1="95.3" x2="533.5" y2="95.3" stroke="#1a1a1a" stroke-width="0.9"/>
<text transform="translate(529.3 95.6) scale(0.78 1)" y="2.98" font-size="8.6" text-anchor="end" fill="#333">120</text>
<path d="M627.3 98.9 V95.1 H730.6 V99.3" fill="none" stroke="#222" stroke-width="0.9"/>
<path d="M627.3 108.2 V103.6 H679.8 V108.2" fill="none" stroke="#222" stroke-width="0.9"/>
<text transform="translate(678.4 92.84)" y="5.88" font-size="17" text-anchor="middle" fill="#1a1a1a" stroke="#1a1a1a" stroke-width="0.35">**</text>
<text transform="translate(652.5 102.54)" y="5.88" font-size="17" text-anchor="middle" fill="#1a1a1a" stroke="#1a1a1a" stroke-width="0.35">**</text>
<text transform="translate(503.7 196.8) rotate(-90) scale(0.82 1)" y="4.95" font-size="14.3" text-anchor="middle" fill="#1a1a1a" stroke="#1a1a1a" stroke-width="0.18">soluble TNF-α (relative percentage)</text>
<text transform="translate(529.9 310) scale(0.85 1)" y="4.36" font-size="12.6" text-anchor="end" fill="#1a1a1a" stroke="#1a1a1a" stroke-width="0.45">PMA</text>
<text transform="translate(529.9 326) scale(0.88 1)" y="4.36" font-size="12.6" text-anchor="end" fill="#1a1a1a" stroke="#1a1a1a" stroke-width="0.45">shRNA</text>
<text transform="translate(550.5 308.24) scale(1.2 1)" y="3.63" font-size="10.5" text-anchor="middle" fill="#222">-</text>
<text transform="translate(575.4 308.94)" y="3.63" font-size="10.5" text-anchor="middle" fill="#222">+</text>
<text transform="translate(599.3 308.24) scale(1.2 1)" y="3.63" font-size="10.5" text-anchor="middle" fill="#222">-</text>
<text transform="translate(627.3 308.94)" y="3.63" font-size="10.5" text-anchor="middle" fill="#222">+</text>
<text transform="translate(654.9 308.24) scale(1.2 1)" y="3.63" font-size="10.5" text-anchor="middle" fill="#222">-</text>
<text transform="translate(679.8 308.94)" y="3.63" font-size="10.5" text-anchor="middle" fill="#222">+</text>
<text transform="translate(705.1 308.24) scale(1.2 1)" y="3.63" font-size="10.5" text-anchor="middle" fill="#222">-</text>
<text transform="translate(730.2 308.94)" y="3.63" font-size="10.5" text-anchor="middle" fill="#222">+</text>
<text transform="translate(550 324.44) scale(1.2 1)" y="3.63" font-size="10.5" text-anchor="middle" fill="#222">-</text>
<text transform="translate(576.5 324.44) scale(1.2 1)" y="3.63" font-size="10.5" text-anchor="middle" fill="#222">-</text>
<text transform="translate(604 325) scale(0.55 1)" y="4.01" font-size="11.6" text-anchor="middle" fill="#2a2a2a">control</text>
<text transform="translate(604 341) scale(0.52 1)" y="4.01" font-size="11.6" text-anchor="middle" fill="#2a2a2a">(TR2)</text>
<text transform="translate(627.3 325) scale(0.55 1)" y="4.01" font-size="11.6" text-anchor="middle" fill="#2a2a2a">control</text>
<text transform="translate(627.3 341) scale(0.52 1)" y="4.01" font-size="11.6" text-anchor="middle" fill="#2a2a2a">(TR2)</text>
<text transform="translate(653.4 325) scale(0.49 1)" y="4.01" font-size="11.6" text-anchor="middle" fill="#2a2a2a">ADAM17</text>
<text transform="translate(653.4 341) scale(0.58 1)" y="4.01" font-size="11.6" text-anchor="middle" fill="#2a2a2a">(#90)</text>
<text transform="translate(680.8 325) scale(0.49 1)" y="4.01" font-size="11.6" text-anchor="middle" fill="#2a2a2a">ADAM17</text>
<text transform="translate(680.8 341) scale(0.58 1)" y="4.01" font-size="11.6" text-anchor="middle" fill="#2a2a2a">(#90)</text>
<text transform="translate(706.8 325) scale(0.49 1)" y="4.01" font-size="11.6" text-anchor="middle" fill="#2a2a2a">ADAM17</text>
<text transform="translate(706.8 341) scale(0.58 1)" y="4.01" font-size="11.6" text-anchor="middle" fill="#2a2a2a">(#92)</text>
<text transform="translate(732.3 325) scale(0.49 1)" y="4.01" font-size="11.6" text-anchor="middle" fill="#2a2a2a">ADAM17</text>
<text transform="translate(732.3 341) scale(0.58 1)" y="4.01" font-size="11.6" text-anchor="middle" fill="#2a2a2a">(#92)</text>
</g>
<g id="panelD">
<text transform="translate(21.3 392.4) scale(0.95 1)" y="5.95" font-size="17.2" text-anchor="start" font-weight="bold" fill="#000" stroke="#000" stroke-width="0.3">D</text>
<rect x="67.7" y="599.1" width="17.2" height="21.7" fill="#fff" stroke="#0c0c0c" stroke-width="1.2"/>
<line x1="76.3" y1="596.2" x2="76.3" y2="600.6" stroke="#0c0c0c" stroke-width="1.1"/>
<line x1="73.3" y1="596.2" x2="79.3" y2="596.2" stroke="#0c0c0c" stroke-width="1.1"/>
<line x1="73.3" y1="600.6" x2="79.3" y2="600.6" stroke="#0c0c0c" stroke-width="1.1"/>
<rect x="93.6" y="426.7" width="16.2" height="194.1" fill="#000"/>
<rect x="118.6" y="485.2" width="16.1" height="135.6" fill="#d9d9d9" stroke="#0c0c0c" stroke-width="1.2"/>
<line x1="126.65" y1="484" x2="126.65" y2="487.7" stroke="#0c0c0c" stroke-width="1.15"/>
<line x1="123.55" y1="484" x2="129.75" y2="484" stroke="#0c0c0c" stroke-width="1.15"/>
<line x1="123.55" y1="487.7" x2="129.75" y2="487.7" stroke="#0c0c0c" stroke-width="1.15"/>
<text transform="translate(126.65 480.31)" y="6.05" font-size="17.5" text-anchor="middle" fill="#1a1a1a" stroke="#1a1a1a" stroke-width="0.35">**</text>
<rect x="143.1" y="527.3" width="16.1" height="93.5" fill="#d9d9d9" stroke="#0c0c0c" stroke-width="1.2"/>
<line x1="151.15" y1="516.3" x2="151.15" y2="536.7" stroke="#0c0c0c" stroke-width="1.15"/>
<line x1="148.05" y1="516.3" x2="154.25" y2="516.3" stroke="#0c0c0c" stroke-width="1.15"/>
<line x1="148.05" y1="536.7" x2="154.25" y2="536.7" stroke="#0c0c0c" stroke-width="1.15"/>
<text transform="translate(151.15 514.31)" y="6.05" font-size="17.5" text-anchor="middle" fill="#1a1a1a" stroke="#1a1a1a" stroke-width="0.35">**</text>
<rect x="167.3" y="574.5" width="16.4" height="46.3" fill="#d9d9d9" stroke="#0c0c0c" stroke-width="1.2"/>
<line x1="175.5" y1="571.3" x2="175.5" y2="577" stroke="#0c0c0c" stroke-width="1.15"/>
<line x1="172.4" y1="571.3" x2="178.6" y2="571.3" stroke="#0c0c0c" stroke-width="1.15"/>
<line x1="172.4" y1="577" x2="178.6" y2="577" stroke="#0c0c0c" stroke-width="1.15"/>
<text transform="translate(175.5 569.21)" y="6.05" font-size="17.5" text-anchor="middle" fill="#1a1a1a" stroke="#1a1a1a" stroke-width="0.35">**</text>
<rect x="191.7" y="424.2" width="16.4" height="196.6" fill="#d9d9d9" stroke="#0c0c0c" stroke-width="1.2"/>
<line x1="199.9" y1="409" x2="199.9" y2="438.9" stroke="#0c0c0c" stroke-width="1.15"/>
<line x1="196.8" y1="409" x2="203" y2="409" stroke="#0c0c0c" stroke-width="1.15"/>
<line x1="196.8" y1="438.9" x2="203" y2="438.9" stroke="#0c0c0c" stroke-width="1.15"/>
<rect x="216.4" y="434.7" width="17.3" height="186.1" fill="#d9d9d9" stroke="#0c0c0c" stroke-width="1.2"/>
<line x1="225.05" y1="414.8" x2="225.05" y2="455.8" stroke="#0c0c0c" stroke-width="1.15"/>
<line x1="221.95" y1="414.8" x2="228.15" y2="414.8" stroke="#0c0c0c" stroke-width="1.15"/>
<line x1="221.95" y1="455.8" x2="228.15" y2="455.8" stroke="#0c0c0c" stroke-width="1.15"/>
<rect x="241.5" y="425.5" width="16.8" height="195.3" fill="#d9d9d9" stroke="#0c0c0c" stroke-width="1.2"/>
<line x1="249.9" y1="418.8" x2="249.9" y2="431" stroke="#0c0c0c" stroke-width="1.15"/>
<line x1="246.8" y1="418.8" x2="253" y2="418.8" stroke="#0c0c0c" stroke-width="1.15"/>
<line x1="246.8" y1="431" x2="253" y2="431" stroke="#0c0c0c" stroke-width="1.15"/>
<rect x="265.9" y="428.5" width="16.9" height="192.3" fill="#d9d9d9" stroke="#0c0c0c" stroke-width="1.2"/>
<line x1="274.35" y1="422.7" x2="274.35" y2="435.2" stroke="#0c0c0c" stroke-width="1.15"/>
<line x1="271.25" y1="422.7" x2="277.45" y2="422.7" stroke="#0c0c0c" stroke-width="1.15"/>
<line x1="271.25" y1="435.2" x2="277.45" y2="435.2" stroke="#0c0c0c" stroke-width="1.15"/>
<rect x="290.4" y="445.9" width="16.3" height="174.9" fill="#d9d9d9" stroke="#0c0c0c" stroke-width="1.2"/>
<line x1="298.55" y1="428.5" x2="298.55" y2="462" stroke="#0c0c0c" stroke-width="1.15"/>
<line x1="295.45" y1="428.5" x2="301.65" y2="428.5" stroke="#0c0c0c" stroke-width="1.15"/>
<line x1="295.45" y1="462" x2="301.65" y2="462" stroke="#0c0c0c" stroke-width="1.15"/>
<line x1="61.7" y1="387.9" x2="61.7" y2="626.2" stroke="#1a1a1a" stroke-width="1.1"/>
<line x1="59" y1="620.8" x2="311.9" y2="620.8" stroke="#1a1a1a" stroke-width="1.3"/>
<line x1="88.3" y1="620.8" x2="88.3" y2="626.2" stroke="#1a1a1a" stroke-width="1"/>
<line x1="113.2" y1="620.8" x2="113.2" y2="626.2" stroke="#1a1a1a" stroke-width="1"/>
<line x1="138.1" y1="620.8" x2="138.1" y2="626.2" stroke="#1a1a1a" stroke-width="1"/>
<line x1="163" y1="620.8" x2="163" y2="626.2" stroke="#1a1a1a" stroke-width="1"/>
<line x1="187.9" y1="620.8" x2="187.9" y2="626.2" stroke="#1a1a1a" stroke-width="1"/>
<line x1="212.8" y1="620.8" x2="212.8" y2="626.2" stroke="#1a1a1a" stroke-width="1"/>
<line x1="237.7" y1="620.8" x2="237.7" y2="626.2" stroke="#1a1a1a" stroke-width="1"/>
<line x1="262.6" y1="620.8" x2="262.6" y2="626.2" stroke="#1a1a1a" stroke-width="1"/>
<line x1="287.5" y1="620.8" x2="287.5" y2="626.2" stroke="#1a1a1a" stroke-width="1"/>
<line x1="312.4" y1="620.8" x2="312.4" y2="626.2" stroke="#1a1a1a" stroke-width="1"/>
<text transform="translate(57.6 621.1) scale(0.8 1)" y="3.53" font-size="10.2" text-anchor="end" fill="#1a1a1a">0</text>
<line x1="58.8" y1="581.98" x2="61.7" y2="581.98" stroke="#1a1a1a" stroke-width="0.9"/>
<text transform="translate(57.6 582.28) scale(0.8 1)" y="3.53" font-size="10.2" text-anchor="end" fill="#1a1a1a">20</text>
<line x1="58.8" y1="543.17" x2="61.7" y2="543.17" stroke="#1a1a1a" stroke-width="0.9"/>
<text transform="translate(57.6 543.47) scale(0.8 1)" y="3.53" font-size="10.2" text-anchor="end" fill="#1a1a1a">40</text>
<line x1="58.8" y1="504.35" x2="61.7" y2="504.35" stroke="#1a1a1a" stroke-width="0.9"/>
<text transform="translate(57.6 504.65) scale(0.8 1)" y="3.53" font-size="10.2" text-anchor="end" fill="#1a1a1a">60</text>
<line x1="58.8" y1="465.53" x2="61.7" y2="465.53" stroke="#1a1a1a" stroke-width="0.9"/>
<text transform="translate(57.6 465.83) scale(0.8 1)" y="3.53" font-size="10.2" text-anchor="end" fill="#1a1a1a">80</text>
<line x1="58.8" y1="426.72" x2="61.7" y2="426.72" stroke="#1a1a1a" stroke-width="0.9"/>
<text transform="translate(57.6 427.02) scale(0.8 1)" y="3.53" font-size="10.2" text-anchor="end" fill="#1a1a1a">100</text>
<line x1="58.8" y1="387.9" x2="61.7" y2="387.9" stroke="#1a1a1a" stroke-width="0.9"/>
<text transform="translate(57.6 388.2) scale(0.8 1)" y="3.53" font-size="10.2" text-anchor="end" fill="#1a1a1a">120</text>
<text transform="translate(31 502.4) rotate(-90) scale(0.78 1)" y="4.95" font-size="14.3" text-anchor="middle" fill="#1a1a1a" stroke="#1a1a1a" stroke-width="0.18">soluble TNF-α (relative percentage)</text>
<text transform="translate(48.2 636.2) scale(1.03 1)" y="4.29" font-size="12.4" text-anchor="end" fill="#1a1a1a" stroke="#1a1a1a" stroke-width="0.45">PMA</text>
<text transform="translate(48.2 651.4) scale(1.04 1)" y="4.01" font-size="11.6" text-anchor="end" fill="#1a1a1a" stroke="#1a1a1a" stroke-width="0.45">Ab</text>
<text transform="translate(75 633.63) scale(1.8 1)" y="5.54" font-size="16" text-anchor="middle" font-weight="bold" fill="#1a1a1a" stroke="#1a1a1a" stroke-width="0.3">-</text>
<text transform="translate(99 634.8)" y="5.54" font-size="16" text-anchor="middle" font-weight="bold" fill="#1a1a1a" stroke="#1a1a1a" stroke-width="0.3">+</text>
<text transform="translate(124.5 634.8)" y="5.54" font-size="16" text-anchor="middle" font-weight="bold" fill="#1a1a1a" stroke="#1a1a1a" stroke-width="0.3">+</text>
<text transform="translate(149.6 634.8)" y="5.54" font-size="16" text-anchor="middle" font-weight="bold" fill="#1a1a1a" stroke="#1a1a1a" stroke-width="0.3">+</text>
<text transform="translate(174.6 634.8)" y="5.54" font-size="16" text-anchor="middle" font-weight="bold" fill="#1a1a1a" stroke="#1a1a1a" stroke-width="0.3">+</text>
<text transform="translate(199.9 634.8)" y="5.54" font-size="16" text-anchor="middle" font-weight="bold" fill="#1a1a1a" stroke="#1a1a1a" stroke-width="0.3">+</text>
<text transform="translate(223.8 634.8)" y="5.54" font-size="16" text-anchor="middle" font-weight="bold" fill="#1a1a1a" stroke="#1a1a1a" stroke-width="0.3">+</text>
<text transform="translate(249.1 634.8)" y="5.54" font-size="16" text-anchor="middle" font-weight="bold" fill="#1a1a1a" stroke="#1a1a1a" stroke-width="0.3">+</text>
<text transform="translate(273 634.8)" y="5.54" font-size="16" text-anchor="middle" font-weight="bold" fill="#1a1a1a" stroke="#1a1a1a" stroke-width="0.3">+</text>
<text transform="translate(297.6 634.8)" y="5.54" font-size="16" text-anchor="middle" font-weight="bold" fill="#1a1a1a" stroke="#1a1a1a" stroke-width="0.3">+</text>
<text transform="translate(75 650.43) scale(1.8 1)" y="5.54" font-size="16" text-anchor="middle" font-weight="bold" fill="#1a1a1a">-</text>
<text transform="translate(99 650.43) scale(1.8 1)" y="5.54" font-size="16" text-anchor="middle" font-weight="bold" fill="#1a1a1a">-</text>
<text transform="translate(124.75 647.9) rotate(-90) scale(0.76 1)" y="5.67" font-size="16.4" text-anchor="end" fill="#1a1a1a" stroke="#1a1a1a" stroke-width="0.4">VJ1/20</text>
<text transform="translate(150.2 647.9) rotate(-90) scale(0.76 1)" y="5.67" font-size="16.4" text-anchor="end" fill="#1a1a1a" stroke="#1a1a1a" stroke-width="0.4">VJ1/10</text>
<text transform="translate(175 647.9) rotate(-90) scale(0.75 1)" y="5.67" font-size="16.4" text-anchor="end" fill="#1a1a1a" stroke="#1a1a1a" stroke-width="0.4">PAINS-13</text>
<text transform="translate(200.2 647.9) rotate(-90) scale(0.75 1)" y="5.67" font-size="16.4" text-anchor="end" fill="#1a1a1a" stroke="#1a1a1a" stroke-width="0.4">PAINS-18</text>
<text transform="translate(224 647.9) rotate(-90) scale(0.76 1)" y="5.67" font-size="16.4" text-anchor="end" fill="#1a1a1a" stroke="#1a1a1a" stroke-width="0.4">PAINS-19</text>
<text transform="translate(249 648.9) rotate(-90) scale(0.75 1)" y="5.67" font-size="16.4" text-anchor="end" fill="#1a1a1a" stroke="#1a1a1a" stroke-width="0.4">Lia 1/1</text>
<text transform="translate(273.8 648.9) rotate(-90) scale(0.78 1)" y="5.67" font-size="16.4" text-anchor="end" fill="#1a1a1a" stroke="#1a1a1a" stroke-width="0.4">TS82</text>
<text transform="translate(299.8 648.9) rotate(-90) scale(0.73 1)" y="5.67" font-size="16.4" text-anchor="end" fill="#1a1a1a" stroke="#1a1a1a" stroke-width="0.4">5A6</text>
<line x1="111.5" y1="708.3" x2="184.9" y2="708.3" stroke="#1a1a1a" stroke-width="1.4"/>
<text transform="translate(149 717) scale(0.55 1)" y="4.84" font-size="14" text-anchor="middle" font-weight="bold" fill="#1a1a1a">CD9</text>
<line x1="189.5" y1="708.3" x2="210.2" y2="708.3" stroke="#1a1a1a" stroke-width="1.4"/>
<text transform="translate(199.1 717) scale(0.55 1)" y="4.84" font-size="14" text-anchor="middle" font-weight="bold" fill="#1a1a1a">HSPA8</text>
<line x1="214.3" y1="708.3" x2="235.5" y2="708.3" stroke="#1a1a1a" stroke-width="1.4"/>
<text transform="translate(224.9 717) scale(0.56 1)" y="4.84" font-size="14" text-anchor="middle" font-weight="bold" fill="#1a1a1a">CD59</text>
<line x1="238.6" y1="708.3" x2="259.7" y2="708.3" stroke="#1a1a1a" stroke-width="1.4"/>
<text transform="translate(250 717) scale(0.53 1)" y="4.84" font-size="14" text-anchor="middle" font-weight="bold" fill="#1a1a1a">CD151</text>
<line x1="263.9" y1="708.3" x2="284.8" y2="708.3" stroke="#1a1a1a" stroke-width="1.4"/>
<text transform="translate(274.2 717) scale(0.58 1)" y="4.84" font-size="14" text-anchor="middle" font-weight="bold" fill="#1a1a1a">CD82</text>
<line x1="288.3" y1="708.3" x2="313.9" y2="708.3" stroke="#1a1a1a" stroke-width="1.4"/>
<text transform="translate(299.5 717) scale(0.53 1)" y="4.84" font-size="14" text-anchor="middle" font-weight="bold" fill="#1a1a1a">CD81</text>
</g>
<g id="panelE">
<text transform="translate(351.9 386) scale(0.95 1)" y="5.95" font-size="17.2" text-anchor="start" font-weight="bold" fill="#000" stroke="#000" stroke-width="0.3">E</text>
<rect x="398.2" y="596.2" width="17.2" height="28.1" fill="#fff" stroke="#8a8a8a" stroke-width="0.9"/>
<line x1="406.6" y1="581.2" x2="406.6" y2="605.8" stroke="#777" stroke-width="0.7"/>
<line x1="404.75" y1="581.2" x2="408.45" y2="581.2" stroke="#777" stroke-width="0.7"/>
<line x1="404.75" y1="605.8" x2="408.45" y2="605.8" stroke="#777" stroke-width="0.7"/>
<rect x="422.1" y="446.6" width="16.7" height="177.7" fill="#000"/>
<line x1="430.8" y1="409.8" x2="430.8" y2="446.6" stroke="#666" stroke-width="0.7"/>
<line x1="429.55" y1="409.8" x2="432.05" y2="409.8" stroke="#666" stroke-width="0.7"/>
<rect x="445" y="450.4" width="17.7" height="173.9" fill="#858585" stroke="#7a7a7a" stroke-width="0.6"/>
<line x1="454.4" y1="394.4" x2="454.4" y2="492.4" stroke="#555" stroke-width="0.7"/>
<line x1="453.15" y1="394.4" x2="455.65" y2="394.4" stroke="#555" stroke-width="0.7"/>
<line x1="453.15" y1="492.4" x2="455.65" y2="492.4" stroke="#555" stroke-width="0.7"/>
<line x1="395.9" y1="372.3" x2="395.9" y2="624.3" stroke="#8a8a8a" stroke-width="1"/>
<line x1="392.2" y1="624.3" x2="463.9" y2="624.3" stroke="#8a8a8a" stroke-width="1.1"/>
<text transform="translate(383.6 624.6)" y="3.91" font-size="11.3" text-anchor="middle" fill="#333">0</text>
<line x1="392.2" y1="596.3" x2="395.9" y2="596.3" stroke="#8a8a8a" stroke-width="0.9"/>
<line x1="392.2" y1="568.3" x2="395.9" y2="568.3" stroke="#8a8a8a" stroke-width="0.9"/>
<text transform="translate(383.6 568.6)" y="3.91" font-size="11.3" text-anchor="middle" fill="#333">2</text>
<line x1="392.2" y1="540.3" x2="395.9" y2="540.3" stroke="#8a8a8a" stroke-width="0.9"/>
<line x1="392.2" y1="512.3" x2="395.9" y2="512.3" stroke="#8a8a8a" stroke-width="0.9"/>
<text transform="translate(383.6 512.6)" y="3.91" font-size="11.3" text-anchor="middle" fill="#333">4</text>
<line x1="392.2" y1="484.3" x2="395.9" y2="484.3" stroke="#8a8a8a" stroke-width="0.9"/>
<line x1="392.2" y1="456.3" x2="395.9" y2="456.3" stroke="#8a8a8a" stroke-width="0.9"/>
<text transform="translate(383.6 456.6)" y="3.91" font-size="11.3" text-anchor="middle" fill="#333">6</text>
<line x1="392.2" y1="428.3" x2="395.9" y2="428.3" stroke="#8a8a8a" stroke-width="0.9"/>
<line x1="392.2" y1="400.3" x2="395.9" y2="400.3" stroke="#8a8a8a" stroke-width="0.9"/>
<text transform="translate(383.6 400.6)" y="3.91" font-size="11.3" text-anchor="middle" fill="#333">8</text>
<line x1="392.2" y1="372.3" x2="395.9" y2="372.3" stroke="#8a8a8a" stroke-width="0.9"/>
<text transform="translate(366.3 504.4) rotate(-90) scale(0.78 1)" y="4.71" font-size="13.6" text-anchor="middle" fill="#1a1a1a" stroke="#1a1a1a" stroke-width="0.18">TNFα expression. Relative Quantity</text>
<text transform="translate(388.7 639.3) scale(0.93 1)" y="4.22" font-size="12.2" text-anchor="end" fill="#1a1a1a">PMA</text>
<text transform="translate(388.7 655) scale(0.89 1)" y="4.22" font-size="12.2" text-anchor="end" fill="#1a1a1a">Ab</text>
<text transform="translate(410.2 637.08) scale(1.35 1)" y="5.74" font-size="16.6" text-anchor="middle" fill="#1a1a1a" stroke="#1a1a1a" stroke-width="0.3">-</text>
<text transform="translate(431.5 638.19)" y="5.74" font-size="16.6" text-anchor="middle" fill="#1a1a1a" stroke="#1a1a1a" stroke-width="0.3">+</text>
<text transform="translate(454.1 638.19)" y="5.74" font-size="16.6" text-anchor="middle" fill="#1a1a1a" stroke="#1a1a1a" stroke-width="0.3">+</text>
<text transform="translate(410 654.08) scale(1.35 1)" y="5.74" font-size="16.6" text-anchor="middle" fill="#1a1a1a" stroke="#1a1a1a" stroke-width="0.3">-</text>
<text transform="translate(431.5 654.08) scale(1.35 1)" y="5.74" font-size="16.6" text-anchor="middle" fill="#1a1a1a" stroke="#1a1a1a" stroke-width="0.3">-</text>
<text transform="translate(454.8 651.3) rotate(-90) scale(0.74 1)" y="4.29" font-size="12.4" text-anchor="end" fill="#2a2a2a" stroke="#2a2a2a" stroke-width="0.2">VJ1/20</text>
</g>
<g id="panelF">
<text transform="translate(488.4 379.4) scale(0.95 1)" y="5.95" font-size="17.2" text-anchor="start" font-weight="bold" fill="#000" stroke="#000" stroke-width="0.3">F</text>
<rect x="526.1" y="605.3" width="13.3" height="18" fill="#fff" stroke="#777" stroke-width="0.8"/>
<line x1="532.8" y1="599.6" x2="532.8" y2="611.9" stroke="#555" stroke-width="0.6"/>
<line x1="532.05" y1="599.6" x2="533.55" y2="599.6" stroke="#555" stroke-width="0.6"/>
<line x1="532.05" y1="611.9" x2="533.55" y2="611.9" stroke="#555" stroke-width="0.6"/>
<rect x="547.6" y="429.4" width="11.8" height="193.9" fill="#000"/>
<rect x="568.1" y="490.2" width="11.9" height="133.1" fill="#c4c4c4" stroke="#666" stroke-width="0.8"/>
<line x1="574.1" y1="484" x2="574.1" y2="496" stroke="#777" stroke-width="0.6"/>
<line x1="573.35" y1="484" x2="574.85" y2="484" stroke="#777" stroke-width="0.6"/>
<line x1="573.35" y1="496" x2="574.85" y2="496" stroke="#777" stroke-width="0.6"/>
<rect x="588.3" y="527.3" width="12.9" height="96" fill="#c4c4c4" stroke="#666" stroke-width="0.8"/>
<line x1="594.8" y1="508.9" x2="594.8" y2="546" stroke="#777" stroke-width="0.6"/>
<line x1="594.05" y1="508.9" x2="595.55" y2="508.9" stroke="#777" stroke-width="0.6"/>
<line x1="594.05" y1="546" x2="595.55" y2="546" stroke="#777" stroke-width="0.6"/>
<text transform="translate(574.1 481.29)" y="6.23" font-size="18" text-anchor="middle" fill="#1a1a1a" stroke="#1a1a1a" stroke-width="0.35">**</text>
<text transform="translate(595 507.09)" y="6.23" font-size="18" text-anchor="middle" fill="#1a1a1a" stroke="#1a1a1a" stroke-width="0.35">**</text>
<line x1="522.3" y1="380.4" x2="522.3" y2="623.3" stroke="#1a1a1a" stroke-width="0.9"/>
<line x1="520.4" y1="623.3" x2="605.3" y2="623.3" stroke="#1a1a1a" stroke-width="1.2"/>
<line x1="543.8" y1="623.3" x2="543.8" y2="625.2" stroke="#1a1a1a" stroke-width="0.8"/>
<line x1="564.2" y1="623.3" x2="564.2" y2="625.2" stroke="#1a1a1a" stroke-width="0.8"/>
<line x1="584.5" y1="623.3" x2="584.5" y2="625.2" stroke="#1a1a1a" stroke-width="0.8"/>
<line x1="604.9" y1="623.3" x2="604.9" y2="625.2" stroke="#1a1a1a" stroke-width="0.8"/>
<text transform="translate(519 623.5) scale(0.68 1)" y="3.43" font-size="9.9" text-anchor="end" fill="#2a2a2a">0</text>
<line x1="520.2" y1="574.72" x2="522.3" y2="574.72" stroke="#1a1a1a" stroke-width="0.8"/>
<text transform="translate(519 574.92) scale(0.68 1)" y="3.43" font-size="9.9" text-anchor="end" fill="#2a2a2a">25</text>
<line x1="520.2" y1="526.14" x2="522.3" y2="526.14" stroke="#1a1a1a" stroke-width="0.8"/>
<text transform="translate(519 526.34) scale(0.68 1)" y="3.43" font-size="9.9" text-anchor="end" fill="#2a2a2a">50</text>
<line x1="520.2" y1="477.56" x2="522.3" y2="477.56" stroke="#1a1a1a" stroke-width="0.8"/>
<text transform="translate(519 477.76) scale(0.68 1)" y="3.43" font-size="9.9" text-anchor="end" fill="#2a2a2a">75</text>
<line x1="520.2" y1="428.98" x2="522.3" y2="428.98" stroke="#1a1a1a" stroke-width="0.8"/>
<text transform="translate(519 429.18) scale(0.68 1)" y="3.43" font-size="9.9" text-anchor="end" fill="#2a2a2a">100</text>
<line x1="520.2" y1="380.4" x2="522.3" y2="380.4" stroke="#1a1a1a" stroke-width="0.8"/>
<text transform="translate(519 380.6) scale(0.68 1)" y="3.43" font-size="9.9" text-anchor="end" fill="#2a2a2a">125</text>
<text transform="translate(498.8 495.4) rotate(-90) scale(0.82 1)" y="4.98" font-size="14.4" text-anchor="middle" fill="#1a1a1a" stroke="#1a1a1a" stroke-width="0.18">soluble TNF-α (relative percentage)</text>
<text transform="translate(518.2 637.3)" y="4.01" font-size="11.6" text-anchor="end" fill="#1a1a1a">THP-1</text>
<text transform="translate(518.4 652.2)" y="4.01" font-size="11.6" text-anchor="end" fill="#1a1a1a">HUT78</text>
<text transform="translate(518.2 667.3)" y="4.01" font-size="11.6" text-anchor="end" fill="#1a1a1a">Ab</text>
<text transform="translate(533.1 636.99)" y="5.74" font-size="16.6" text-anchor="middle" fill="#1a1a1a" stroke="#1a1a1a" stroke-width="0.5">+</text>
<text transform="translate(533.1 650.48) scale(1.3 1)" y="5.74" font-size="16.6" text-anchor="middle" fill="#1a1a1a" stroke="#1a1a1a" stroke-width="0.5">-</text>
<text transform="translate(533.1 666.48) scale(1.3 1)" y="5.74" font-size="16.6" text-anchor="middle" fill="#1a1a1a" stroke="#1a1a1a" stroke-width="0.5">-</text>
<text transform="translate(553.8 636.99)" y="5.74" font-size="16.6" text-anchor="middle" fill="#1a1a1a" stroke="#1a1a1a" stroke-width="0.5">+</text>
<text transform="translate(553.8 651.59)" y="5.74" font-size="16.6" text-anchor="middle" fill="#1a1a1a" stroke="#1a1a1a" stroke-width="0.5">+</text>
<text transform="translate(553.8 666.48) scale(1.3 1)" y="5.74" font-size="16.6" text-anchor="middle" fill="#1a1a1a" stroke="#1a1a1a" stroke-width="0.5">-</text>
<text transform="translate(573.5 636.99)" y="5.74" font-size="16.6" text-anchor="middle" fill="#1a1a1a" stroke="#1a1a1a" stroke-width="0.5">+</text>
<text transform="translate(573.5 651.59)" y="5.74" font-size="16.6" text-anchor="middle" fill="#1a1a1a" stroke="#1a1a1a" stroke-width="0.5">+</text>
<text transform="translate(593.6 636.99)" y="5.74" font-size="16.6" text-anchor="middle" fill="#1a1a1a" stroke="#1a1a1a" stroke-width="0.5">+</text>
<text transform="translate(593.6 651.59)" y="5.74" font-size="16.6" text-anchor="middle" fill="#1a1a1a" stroke="#1a1a1a" stroke-width="0.5">+</text>
<text transform="translate(574.8 660.7) rotate(-90) scale(0.71 1)" y="4.29" font-size="12.4" text-anchor="end" fill="#2a2a2a" stroke="#2a2a2a" stroke-width="0.25">VJ1/20</text>
<text transform="translate(593.7 660.7) rotate(-90) scale(0.71 1)" y="4.29" font-size="12.4" text-anchor="end" fill="#2a2a2a" stroke="#2a2a2a" stroke-width="0.25">VJ1/10</text>
</g>
<g id="panelG">
<text transform="translate(630.6 374.1) scale(0.95 1)" y="5.95" font-size="17.2" text-anchor="start" font-weight="bold" fill="#000" stroke="#000" stroke-width="0.3">G</text>
<rect x="671.1" y="606.5" width="14.7" height="11.8" fill="#c4c4c4" stroke="#666" stroke-width="0.8"/>
<line x1="678.2" y1="595.9" x2="678.2" y2="618.3" stroke="#333" stroke-width="0.8"/>
<line x1="676.2" y1="595.9" x2="680.2" y2="595.9" stroke="#333" stroke-width="0.8"/>
<rect x="692.3" y="450.8" width="14.2" height="167.5" fill="#000"/>
<rect x="713.1" y="498.6" width="14.5" height="119.7" fill="#c4c4c4" stroke="#555" stroke-width="0.9"/>
<line x1="720.2" y1="475.8" x2="720.2" y2="521.3" stroke="#222" stroke-width="0.8"/>
<line x1="718.2" y1="475.8" x2="722.2" y2="475.8" stroke="#222" stroke-width="0.8"/>
<line x1="718.2" y1="521.3" x2="722.2" y2="521.3" stroke="#222" stroke-width="0.8"/>
<rect x="734.6" y="517.6" width="14" height="100.7" fill="#c4c4c4" stroke="#555" stroke-width="0.9"/>
<line x1="741.7" y1="489.4" x2="741.7" y2="546.2" stroke="#333" stroke-width="0.8"/>
<line x1="739.7" y1="489.4" x2="743.7" y2="489.4" stroke="#333" stroke-width="0.8"/>
<line x1="739.7" y1="546.2" x2="743.7" y2="546.2" stroke="#333" stroke-width="0.8"/>
<rect x="755.6" y="437.9" width="14.4" height="180.4" fill="#c4c4c4" stroke="#555" stroke-width="0.9"/>
<line x1="762.8" y1="396.6" x2="762.8" y2="480.7" stroke="#222" stroke-width="0.8"/>
<line x1="760.8" y1="396.6" x2="764.8" y2="396.6" stroke="#222" stroke-width="0.8"/>
<line x1="760.8" y1="480.7" x2="764.8" y2="480.7" stroke="#222" stroke-width="0.8"/>
<text transform="translate(720.2 473.75)" y="6.57" font-size="19" text-anchor="middle" fill="#1a1a1a" stroke="#1a1a1a" stroke-width="0.35">*</text>
<text transform="translate(741.9 486.44)" y="6.57" font-size="19" text-anchor="middle" fill="#1a1a1a" stroke="#1a1a1a" stroke-width="0.35">*</text>
<line x1="666.5" y1="367" x2="666.5" y2="618.3" stroke="#1a1a1a" stroke-width="1.25"/>
<line x1="664.6" y1="618.3" x2="772.4" y2="618.3" stroke="#1a1a1a" stroke-width="1.2"/>
<line x1="711" y1="618.3" x2="711" y2="620.5" stroke="#1a1a1a" stroke-width="0.9"/>
<line x1="731.5" y1="618.3" x2="731.5" y2="620.5" stroke="#1a1a1a" stroke-width="0.9"/>
<line x1="752.5" y1="618.3" x2="752.5" y2="620.5" stroke="#1a1a1a" stroke-width="0.9"/>
<line x1="773" y1="618.3" x2="773" y2="620.5" stroke="#1a1a1a" stroke-width="0.9"/>
<text transform="translate(661.2 618.5) scale(0.72 1)" y="3.18" font-size="9.2" text-anchor="end" fill="#222" stroke="#222" stroke-width="0.2">0</text>
<line x1="664" y1="576.42" x2="666.5" y2="576.42" stroke="#1a1a1a" stroke-width="0.9"/>
<text transform="translate(661.2 576.62) scale(0.72 1)" y="3.18" font-size="9.2" text-anchor="end" fill="#222" stroke="#222" stroke-width="0.2">25</text>
<line x1="664" y1="534.53" x2="666.5" y2="534.53" stroke="#1a1a1a" stroke-width="0.9"/>
<text transform="translate(661.2 534.73) scale(0.72 1)" y="3.18" font-size="9.2" text-anchor="end" fill="#222" stroke="#222" stroke-width="0.2">50</text>
<line x1="664" y1="492.65" x2="666.5" y2="492.65" stroke="#1a1a1a" stroke-width="0.9"/>
<text transform="translate(661.2 492.85) scale(0.72 1)" y="3.18" font-size="9.2" text-anchor="end" fill="#222" stroke="#222" stroke-width="0.2">75</text>
<line x1="664" y1="450.77" x2="666.5" y2="450.77" stroke="#1a1a1a" stroke-width="0.9"/>
<text transform="translate(661.2 450.97) scale(0.72 1)" y="3.18" font-size="9.2" text-anchor="end" fill="#222" stroke="#222" stroke-width="0.2">100</text>
<line x1="664" y1="408.88" x2="666.5" y2="408.88" stroke="#1a1a1a" stroke-width="0.9"/>
<text transform="translate(661.2 409.08) scale(0.72 1)" y="3.18" font-size="9.2" text-anchor="end" fill="#222" stroke="#222" stroke-width="0.2">125</text>
<line x1="664" y1="367" x2="666.5" y2="367" stroke="#1a1a1a" stroke-width="0.9"/>
<text transform="translate(661.2 367.2) scale(0.72 1)" y="3.18" font-size="9.2" text-anchor="end" fill="#222" stroke="#222" stroke-width="0.2">150</text>
<text transform="translate(638.5 492.5) rotate(-90) scale(0.82 1)" y="4.91" font-size="14.2" text-anchor="middle" fill="#1a1a1a" stroke="#1a1a1a" stroke-width="0.18">soluble TNF-α (relative percentage)</text>
<line x1="692.3" y1="623" x2="768.4" y2="623" stroke="#1a1a1a" stroke-width="1.3"/>
<text transform="translate(678.2 628.5) scale(0.83 1)" y="2.77" font-size="8" text-anchor="middle" fill="#333" stroke="#333" stroke-width="0.25">Transwell</text>
<text transform="translate(733 632.9) scale(0.79 1)" y="4.26" font-size="12.3" text-anchor="middle" fill="#1a1a1a">THP-1 + PBLs</text>
<text transform="translate(657.9 649.7) scale(1.28 1)" y="3.81" font-size="11" text-anchor="end" fill="#1a1a1a">Ab</text>
<text transform="translate(678.3 648.73) scale(2 1)" y="4.84" font-size="14" text-anchor="middle" font-weight="bold" fill="#1a1a1a">-</text>
<text transform="translate(698.7 648.73) scale(2 1)" y="4.84" font-size="14" text-anchor="middle" font-weight="bold" fill="#1a1a1a">-</text>
<text transform="translate(721.4 644.5) rotate(-90) scale(0.64 1)" y="4.95" font-size="14.3" text-anchor="end" fill="#1a1a1a" stroke="#1a1a1a" stroke-width="0.18">VJ1/20</text>
<text transform="translate(742 644.5) rotate(-90) scale(0.62 1)" y="4.95" font-size="14.3" text-anchor="end" fill="#1a1a1a" stroke="#1a1a1a" stroke-width="0.18">PAINS-13</text>
<text transform="translate(762.8 645) rotate(-90) scale(0.63 1)" y="4.95" font-size="14.3" text-anchor="end" fill="#1a1a1a" stroke="#1a1a1a" stroke-width="0.18">Control</text>
</g>
</svg></body></html>
